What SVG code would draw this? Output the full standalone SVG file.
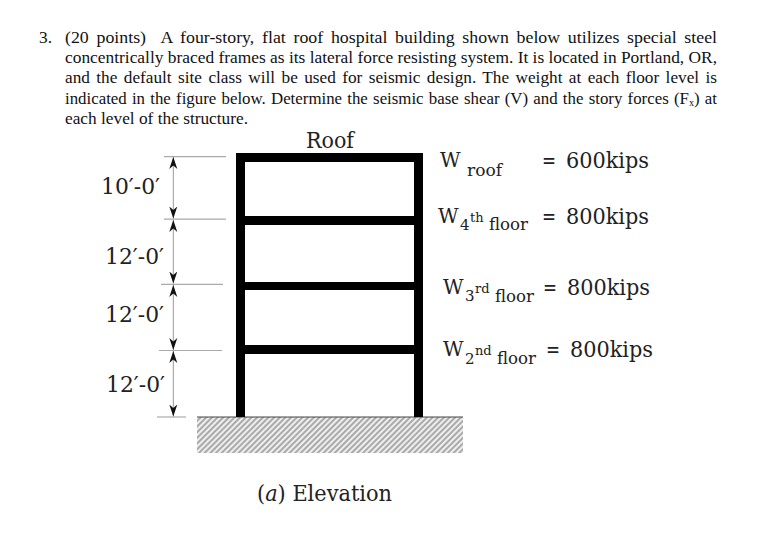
<svg xmlns="http://www.w3.org/2000/svg" width="775" height="557" viewBox="0 0 775 557">
<style>
.b{font-family:"Liberation Serif",serif;font-size:16.5px;fill:#111}
.d{font-family:"DejaVu Serif","Liberation Serif",serif;font-size:23px;fill:#222}
.m{font-family:"DejaVu Serif","Liberation Serif",serif;fill:#222}
.w{font-size:23px}.v{font-size:20px}.s{font-size:15px}.f{font-size:16px}.t{font-size:13px}
.tick{stroke:#aaa;stroke-width:1.2;fill:none}
.dim{stroke:#999;stroke-width:1;fill:none}
.fr{fill:#000}
</style>
<defs>
<marker id="ah" markerUnits="userSpaceOnUse" markerWidth="12" markerHeight="9" refX="12" refY="4.5" orient="auto-start-reverse" viewBox="0 0 12 9">
<path d="M12 4.5L0 0.5L3.5 4.5L0 8.5Z" fill="#111"/>
</marker>
<pattern id="h" patternUnits="userSpaceOnUse" width="4" height="4" patternTransform="rotate(-45)">
<rect width="4" height="4" fill="#eee"/><rect width="4" height="2" fill="#aaa"/>
</pattern>
</defs>
<rect width="775" height="557" fill="#fff"/>
<g id="problem-text">
<text class="b" x="39" y="43" textLength="13" lengthAdjust="spacingAndGlyphs">3.</text>
<text class="b" x="65" y="43" textLength="652" lengthAdjust="spacingAndGlyphs" word-spacing="3" xml:space="preserve">(20 points)  A four-story, flat roof hospital building shown below utilizes special steel</text>
<text class="b" x="65" y="63" textLength="652" lengthAdjust="spacingAndGlyphs">concentrically braced frames as its lateral force resisting system. It is located in Portland, OR,</text>
<text class="b" x="65" y="83" textLength="652" lengthAdjust="spacingAndGlyphs" word-spacing="2">and the default site class will be used for seismic design. The weight at each floor level is</text>
<text class="b" x="65" y="104" textLength="652" lengthAdjust="spacingAndGlyphs" word-spacing="1">indicated in the figure below. Determine the seismic base shear (V) and the story forces (F<tspan font-size="10" dy="2">x</tspan><tspan dy="-2">) at</tspan></text>
<text class="b" x="65" y="124" textLength="183" lengthAdjust="spacingAndGlyphs">each level of the structure.</text>
</g>
<g id="ground">
<rect x="197" y="417" width="266" height="36" fill="url(#h)"/>
<line x1="197" y1="417" x2="463" y2="417" stroke="#444" stroke-width="1"/>
</g>
<g id="frame">
<rect class="fr" x="236" y="153" width="9" height="264"/>
<rect class="fr" x="414" y="153" width="9" height="264"/>
<rect class="fr" x="236" y="153" width="187" height="9"/>
<rect class="fr" x="236" y="216" width="187" height="9"/>
<rect class="fr" x="236" y="282" width="187" height="8"/>
<rect class="fr" x="236" y="345" width="187" height="9"/>
</g>
<g id="connectors">
<line class="tick" x1="164" y1="156.7" x2="226" y2="156.7"/>
<line class="tick" x1="164" y1="219.2" x2="226" y2="219.2"/>
<line class="tick" x1="161" y1="284.4" x2="223" y2="284.4"/>
<line class="tick" x1="159" y1="350.5" x2="222" y2="350.5"/>
<line class="tick" x1="157" y1="417" x2="186" y2="417" stroke-width="1.6"/>
<line class="dim" x1="173.3" y1="157" x2="173.3" y2="218.5" marker-start="url(#ah)" marker-end="url(#ah)"/>
<line class="dim" x1="173.3" y1="220" x2="173.3" y2="283.5" marker-start="url(#ah)" marker-end="url(#ah)"/>
<line class="dim" x1="173.3" y1="285" x2="173.3" y2="350" marker-start="url(#ah)" marker-end="url(#ah)"/>
<line class="dim" x1="173.3" y1="351" x2="173.3" y2="416.5" marker-start="url(#ah)" marker-end="url(#ah)"/>
</g>
<g id="labels">
<text class="d" x="306" y="148" textLength="48" lengthAdjust="spacingAndGlyphs">Roof</text>
<text class="d" x="257" y="501" textLength="135" lengthAdjust="spacingAndGlyphs">(<tspan font-style="italic">a</tspan>) Elevation</text>
<text class="d" x="101" y="194" textLength="59" lengthAdjust="spacingAndGlyphs">10′-0′</text>
<text class="d" x="105" y="264" textLength="59" lengthAdjust="spacingAndGlyphs">12′-0′</text>
<text class="d" x="105" y="322" textLength="59" lengthAdjust="spacingAndGlyphs">12′-0′</text>
<text class="d" x="106" y="392" textLength="59" lengthAdjust="spacingAndGlyphs">12′-0′</text>
</g>
<g id="w-roof">
<text class="m v" x="440" y="167">W</text>
<text class="m f" x="467" y="176" textLength="35" lengthAdjust="spacingAndGlyphs">roof</text>
<text class="m w" x="542" y="168" textLength="14" lengthAdjust="spacingAndGlyphs">=</text>
<text class="m w" x="566" y="168" textLength="83" lengthAdjust="spacingAndGlyphs">600kips</text>
</g>
<g id="w-4th">
<text class="m v" x="438" y="223">W<tspan class="s" x="460" y="230">4</tspan><tspan class="t" x="470" y="222">th</tspan><tspan class="f" x="489" y="230" textLength="39" lengthAdjust="spacingAndGlyphs">floor</tspan></text>
<text class="m w" x="542" y="224" textLength="14" lengthAdjust="spacingAndGlyphs">=</text>
<text class="m w" x="566" y="224" textLength="83" lengthAdjust="spacingAndGlyphs">800kips</text>
</g>
<g id="w-3rd">
<text class="m v" x="443" y="294">W<tspan class="s" x="465" y="301">3</tspan><tspan class="t" x="475" y="293">rd</tspan><tspan class="f" x="495" y="302" textLength="39" lengthAdjust="spacingAndGlyphs">floor</tspan></text>
<text class="m w" x="543" y="295" textLength="14" lengthAdjust="spacingAndGlyphs">=</text>
<text class="m w" x="567" y="295" textLength="83" lengthAdjust="spacingAndGlyphs">800kips</text>
</g>
<g id="w-2nd">
<text class="m v" x="443" y="356">W<tspan class="s" x="465" y="364">2</tspan><tspan class="t" x="475" y="355">nd</tspan><tspan class="f" x="497" y="364" textLength="39" lengthAdjust="spacingAndGlyphs">floor</tspan></text>
<text class="m w" x="546" y="357" textLength="14" lengthAdjust="spacingAndGlyphs">=</text>
<text class="m w" x="570" y="357" textLength="83" lengthAdjust="spacingAndGlyphs">800kips</text>
</g>
</svg>
